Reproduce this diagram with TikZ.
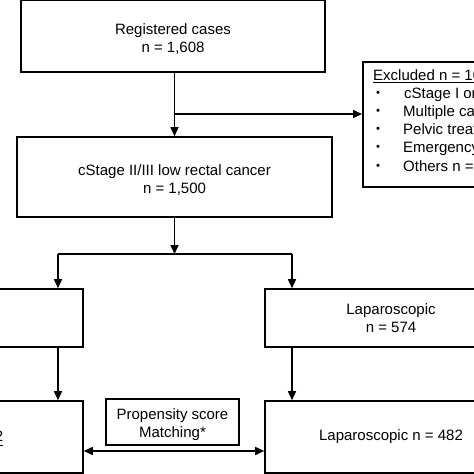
\documentclass[tikz,border=0pt]{standalone}
\usepackage{fontspec}
\setmainfont{Liberation Sans}
\newfontfamily\cjk{Noto Sans CJK JP}
\usetikzlibrary{arrows.meta}
\newcommand{\tstrut}{\rule{0pt}{16.5pt}}
\begin{document}
\begin{tikzpicture}[x=1pt,y=-1pt]
\tikzset{
  box/.style={draw, line width=1.6pt, inner sep=0pt, align=center, font=\fontsize{15}{18}\selectfont},
  lbl/.style={inner sep=0pt, font=\fontsize{15}{18}\selectfont},
  arr/.style={line width=1.6pt, -{Triangle[length=9pt,width=8pt]}},
  dbl/.style={line width=1.6pt, {Triangle[length=9pt,width=8pt]}-{Triangle[length=9pt,width=8pt]}},
  ln/.style={line width=1.6pt}
}
\useasboundingbox (0,0) rectangle (474,474);
\clip (0,0) rectangle (474,474);
\fill[white] (0,0) rectangle (474,474);
% boxes
\node[box, minimum width=304pt, minimum height=72pt] (reg) at (173,36) {\tstrut Registered cases\\n = 1,608};
\draw[gray!70, line width=2pt] (reg.north west) -- (reg.north east);
\node[box, minimum width=315pt, minimum height=80pt] (cst) at (174.5,177) {\tstrut cStage II/III low rectal cancer\\n = 1,500};
\node[box, minimum width=200pt, minimum height=125pt, anchor=north west] (exc) at (362,61) {};
\node[lbl, anchor=base west] (e0) at (373,80.5) {\underline{Excluded n = 108}};
\node[lbl, anchor=base, font=\cjk\fontsize{15}{18}\selectfont] (b1) at (378,98.5) {・};
\node[lbl, anchor=base, font=\cjk\fontsize{15}{18}\selectfont] (b2) at (378,116.5) {・};
\node[lbl, anchor=base, font=\cjk\fontsize{15}{18}\selectfont] (b3) at (378,134.5) {・};
\node[lbl, anchor=base, font=\cjk\fontsize{15}{18}\selectfont] (b4) at (378,152.5) {・};
\node[lbl, anchor=base, font=\cjk\fontsize{15}{18}\selectfont] (b5) at (378,171) {・};
\node[lbl, anchor=base west] (t1) at (404,98.5) {cStage I or IV};
\node[lbl, anchor=base west] (t2) at (403,116.5) {Multiple cancers};
\node[lbl, anchor=base west] (t3) at (403,134.5) {Pelvic treatment};
\node[lbl, anchor=base west] (t4) at (403,152.5) {Emergency};
\node[lbl, anchor=base west] (t5) at (403,171) {Others n = };
\node[box, minimum width=203pt, minimum height=58pt] (lmid) at (-18.5,318) {};
\node[box, minimum width=252pt, minimum height=58pt] (rmid) at (391,318) {Laparoscopic\\n = 574};
\node[box, minimum width=203pt, minimum height=72pt] (lbot) at (-18.5,437) {};
\node[lbl, anchor=base east] (lbtxt) at (3.5,441) {\underline{Open n = 482}};
\node[box, minimum width=252pt, minimum height=72pt] (rbot) at (391,437) {Laparoscopic n = 482};
\node[box, minimum width=133pt, minimum height=46pt] (psm) at (172.5,422) {\tstrut Propensity score\\Matching*};
% connectors
\coordinate (j1) at (174.5,114);
\coordinate (j2) at (174.5,254);
\coordinate (sl) at (58,254);
\coordinate (sr) at (292,254);
\coordinate (dy) at (0,451);
\draw[arr] (reg.south -| cst.north) -- (cst.north);
\draw[arr] (j1) -- (exc.west |- j1);
\draw[arr] (cst.south) -- (j2);
\draw[ln] (sl) -- (sr);
\draw[arr] (sl) -- (sl |- lmid.north);
\draw[arr] (sr) -- (sr |- rmid.north);
\draw[arr] (lmid.south -| sl) -- (lbot.north -| sl);
\draw[arr] (rmid.south -| sr) -- (rbot.north -| sr);
\draw[dbl] (lbot.east |- dy) -- (rbot.west |- dy);
\end{tikzpicture}
\end{document}
